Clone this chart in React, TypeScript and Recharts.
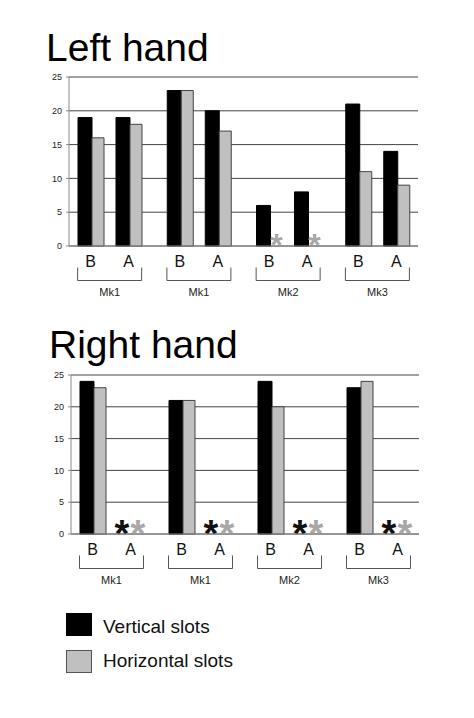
import React from "react";
import { BarChart, Bar, XAxis, YAxis, CartesianGrid, Rectangle } from "recharts";

// groups of trials, each with a before (B) and after (A) pair
const groups = ["Mk1", "Mk1", "Mk2", "Mk3"];
const phases = ["B", "A"];
const yTicks = [0, 5, 10, 15, 20, 25];

const leftBeforeVertical = [19, 23, 6, 21];
const leftBeforeHorizontal = [16, 23, 0, 11];
const leftAfterVertical = [19, 20, 8, 14];
const leftAfterHorizontal = [18, 17, 0, 9];

const rightBeforeVertical = [24, 21, 24, 23];
const rightBeforeHorizontal = [23, 21, 20, 24];
const rightAfterVertical = [0, 0, 0, 0];
const rightAfterHorizontal = [0, 0, 0, 0];

const legendLabels = ["Vertical slots", "Horizontal slots"];

const BLACK = "#000000";
const GREY = "#c0c0c0";
const STAR_GREY = "#a8a8a8";
const AXIS = "#8a8a8a";
const GRID = "#444444";
const FONT = "'Liberation Sans', Arial, Helvetica, sans-serif";

function buildRows(bv: number[], bh: number[], av: number[], ah: number[]) {
  return groups.map((g, i) => ({ key: String(i), group: g, bv: bv[i], bh: bh[i], av: av[i], ah: ah[i] }));
}

function GroupTick(props: any) {
  const { x, y, payload } = props;
  const label = groups[Number(payload.value)];
  return (
    <g>
      <text x={x - 19} y={y + 21} textAnchor="middle" fontSize={16} fill="#111">
        {phases[0]}
      </text>
      <text x={x + 19} y={y + 21} textAnchor="middle" fontSize={16} fill="#111">
        {phases[1]}
      </text>
      <path
        d={`M${x - 32},${y + 21.5} V${y + 34.5} H${x + 32} V${y + 21.5}`}
        stroke="#555"
        strokeWidth={1}
        fill="none"
      />
      <text x={x} y={y + 50} textAnchor="middle" fontSize={11} fill="#222">
        {label}
      </text>
    </g>
  );
}

// bars with a zero count are drawn as an asterisk sitting just above the axis
function barOrStar(starColor: string, size: number, dx = 0) {
  return (props: any) => {
    const { x, y, width, height, value } = props;
    const v = Array.isArray(value) ? value[1] - value[0] : Number(value);
    if (v === 0 || !height) {
      return (
        <text
          x={x + width / 2 + dx}
          y={y - 2 + size * 0.39}
          textAnchor="middle"
          fontSize={size}
          fontWeight="bold"
          fill={starColor}
        >
          *
        </text>
      );
    }
    return <Rectangle {...props} />;
  };
}

interface HandChartProps {
  rows: ReturnType<typeof buildRows>;
  top: number;
  height: number;
  marginTop: number;
  marginLeft: number;
  marginRight: number;
  starSize: number;
}

function HandChart({ rows, top, height, marginTop, marginLeft, marginRight, starSize }: HandChartProps) {
  return (
    <div style={{ position: "absolute", left: 0, top }}>
      <BarChart
        width={474}
        height={height}
        data={rows}
        barGap={0}
        margin={{ top: marginTop, right: marginRight, bottom: 0, left: marginLeft }}
      >
        <CartesianGrid vertical={false} stroke={GRID} />
        <XAxis xAxisId="top" orientation="top" dataKey="key" height={0} tick={false} tickLine={false} axisLine={{ stroke: AXIS }} />
        <XAxis
          dataKey="key"
          height={56}
          tickLine={false}
          tickSize={0}
          tickMargin={0}
          axisLine={{ stroke: AXIS }}
          tick={<GroupTick />}
          interval={0}
          padding={{ left: -4, right: -4 }}
        />
        <YAxis
          domain={[0, 25]}
          ticks={yTicks}
          width={30}
          tickSize={3}
          tickMargin={4}
          axisLine={{ stroke: AXIS }}
          tickLine={{ stroke: AXIS }}
          tick={{ fontSize: 9, fill: "#222" }}
        />
        <YAxis yAxisId="r" orientation="right" domain={[0, 25]} width={0} tick={false} tickLine={false} axisLine={{ stroke: AXIS }} />
        <Bar dataKey="bv" fill={BLACK} stroke={BLACK} barSize={14} shape={barOrStar("#111", starSize, -3)} isAnimationActive={false} />
        <Bar dataKey="bh" fill={GREY} stroke="#444" barSize={12} shape={barOrStar(STAR_GREY, starSize)} isAnimationActive={false} />
        <Bar dataKey="gap" fill="none" barSize={12} legendType="none" isAnimationActive={false} />
        <Bar dataKey="av" fill={BLACK} stroke={BLACK} barSize={14} shape={barOrStar("#111", starSize, -3)} isAnimationActive={false} />
        <Bar dataKey="ah" fill={GREY} stroke="#444" barSize={12} shape={barOrStar(STAR_GREY, starSize)} isAnimationActive={false} />
      </BarChart>
    </div>
  );
}

const titleStyle: React.CSSProperties = {
  position: "absolute",
  fontSize: 39,
  lineHeight: "39px",
  color: "#000",
  whiteSpace: "nowrap",
};

const legendText: React.CSSProperties = {
  position: "absolute",
  left: 103,
  fontSize: 19,
  lineHeight: "19px",
  color: "#111",
  whiteSpace: "nowrap",
};

export default function App() {
  const leftRows = buildRows(leftBeforeVertical, leftBeforeHorizontal, leftAfterVertical, leftAfterHorizontal);
  const rightRows = buildRows(rightBeforeVertical, rightBeforeHorizontal, rightAfterVertical, rightAfterHorizontal);

  return (
    <div style={{ position: "absolute", left: 0, top: 0, width: 474, height: 718, background: "#fff", fontFamily: FONT }}>
      <div style={{ ...titleStyle, left: 46, top: 28 }}>Left hand</div>
      <HandChart rows={leftRows} top={0} height={302} marginTop={77} marginLeft={39} marginRight={56} starSize={32} />

      <div style={{ ...titleStyle, left: 49, top: 325 }}>Right hand</div>
      <HandChart rows={rightRows} top={300} height={290} marginTop={75} marginLeft={41} marginRight={55} starSize={38} />

      <div style={{ position: "absolute", left: 66, top: 613, width: 26, height: 23, background: BLACK }} />
      <div style={{ ...legendText, top: 617 }}>{legendLabels[0]}</div>
      <div
        style={{
          position: "absolute",
          left: 66,
          top: 650,
          width: 24,
          height: 21,
          background: GREY,
          border: "1px solid #555",
        }}
      />
      <div style={{ ...legendText, top: 651 }}>{legendLabels[1]}</div>
    </div>
  );
}
